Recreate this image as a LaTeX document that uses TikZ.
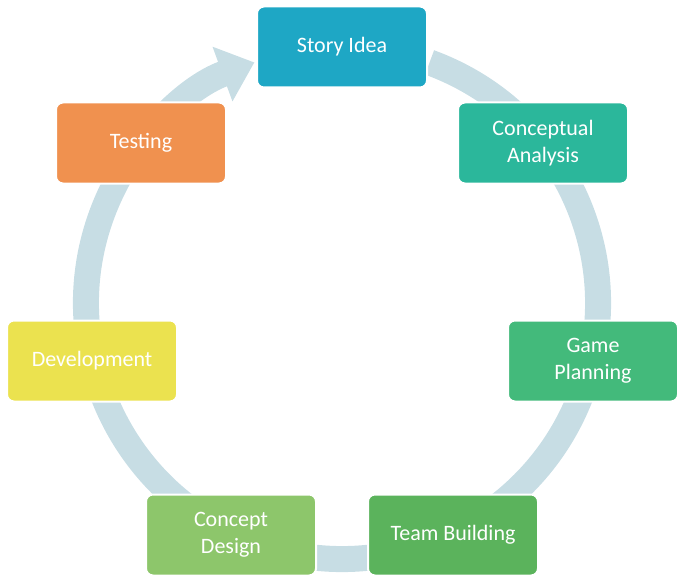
\documentclass[tikz,border=0pt]{standalone}
\usepackage{fontspec}
\setmainfont{Carlito}
\usetikzlibrary{arrows.meta}
\definecolor{ring}{HTML}{C7DDE4}
\definecolor{cA}{HTML}{1EA7C5}
\definecolor{cB}{HTML}{2BB79B}
\definecolor{cC}{HTML}{43BA7B}
\definecolor{cD}{HTML}{5BB35C}
\definecolor{cE}{HTML}{8DC66B}
\definecolor{cF}{HTML}{EBE24F}
\definecolor{cG}{HTML}{F0914F}
\tikzset{box/.style={draw=white,line width=2pt,rounded corners=7pt,minimum width=170pt,minimum height=81pt,text=white,align=center,font=\fontsize{22}{27}\selectfont,inner sep=2pt}}
\begin{document}
\begin{tikzpicture}[x=1pt,y=-1pt]
\useasboundingbox (0,0) rectangle (685,583);
\draw[ring,line width=26pt,-{Triangle[width=56pt,length=34pt]}] ([shift={(-70:256)}]342,303) arc[start angle=-70,end angle=250,radius=256];
\node[box,fill=cA] (a) at (342,47) {Story Idea};
\node[box,fill=cB] (b) at (543,143) {Conceptual\\Analysis};
\node[box,fill=cC] (g) at (593,361) {Game\\Planning};
\node[box,fill=cD] (t) at (453,535) {Team Building};
\node[box,fill=cE] (d) at (231,535) {Concept\\Design};
\node[box,fill=cF] (v) at (92,361) {Development};
\node[box,fill=cG] (s) at (141,143) {Testing};
\end{tikzpicture}
\end{document}
